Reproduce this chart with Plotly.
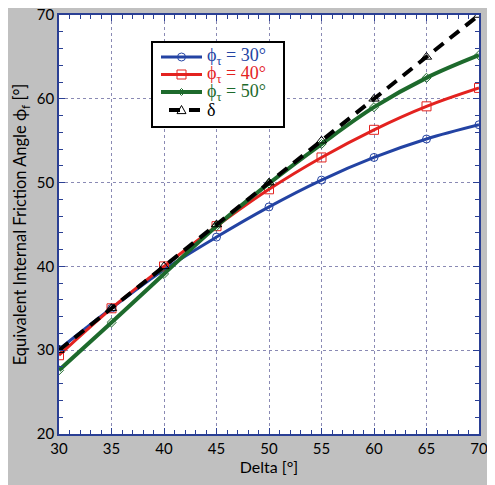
import plotly.graph_objects as go

# CONFIG
delta = [30, 35, 40, 45, 50, 55, 60, 65, 70]

phi_30 = [30.1, 35.0, 39.6, 43.5, 47.1, 50.3, 53.0, 55.2, 56.9]
phi_40 = [29.4, 35.0, 40.0, 44.8, 49.2, 53.0, 56.3, 59.1, 61.3]
phi_50 = [27.6, 33.3, 39.1, 44.8, 49.9, 54.6, 59.0, 62.5, 65.2]
phi_delta = [30, 35, 40, 45, 50, 55, 60, 65, 70]

legend_labels = ["ϕ<sub>τ</sub> = 30°", "ϕ<sub>τ</sub> = 40°", "ϕ<sub>τ</sub> = 50°", "δ"]

BLUE = "#2343a3"
RED = "#e3221f"
GREEN = "#1d6a2c"
AXIS = "#2a3f94"
GRID = "#8a8ab4"
BG = "#c0c0c0"
FONT = "Lato"

# the page body has an 8px margin, so the figure is made 8px smaller
# and the margins shifted to keep the plot box where the reference has it
PAGE_OFFSET = 8
PLOT_L, PLOT_R, PLOT_T, PLOT_B = 59, 479, 15, 434   # plot box, page pixels

# hand drawn legend box (page pixels) - plotly's own legend rows are too tall
LEG_BOX = (152, 42, 284, 127)
LEG_ROWS = [57, 74.5, 92, 110]
LEG_LINE = (161, 202)
LEG_MARK_X = 181.5
LEG_TEXT_X = 205


def px(x):
    return (x - PLOT_L) / (PLOT_R - PLOT_L)


def py(y):
    return (PLOT_B - y) / (PLOT_B - PLOT_T)


def marker_shape(kind, cx, cy, color):
    style = dict(xref="paper", yref="paper", line=dict(color=color, width=1),
                 fillcolor="rgba(0,0,0,0)")
    if kind == "circle":
        r = 4
        return dict(type="circle", x0=px(cx - r), x1=px(cx + r),
                    y0=py(cy + r), y1=py(cy - r), **style)
    if kind == "square":
        r = 4.5
        return dict(type="rect", x0=px(cx - r), x1=px(cx + r),
                    y0=py(cy + r), y1=py(cy - r), **style)
    if kind == "diamond":
        r = 3.5
        pts = [(cx, cy - r), (cx + r, cy), (cx, cy + r), (cx - r, cy)]
    else:  # triangle
        r = 4.5
        pts = [(cx, cy - r), (cx + r, cy + r * 0.8), (cx - r, cy + r * 0.8)]
    path = "M " + " L ".join(f"{px(a):.5f},{py(b):.5f}" for a, b in pts) + " Z"
    return dict(type="path", path=path, **style)


def make_figure():
    fig = go.Figure()

    series = [
        (phi_30, BLUE, 3, "circle-open", 8, None),
        (phi_40, RED, 3, "square-open", 9, None),
        (phi_50, GREEN, 4, "diamond-open", 7, None),
        (phi_delta, "black", 4, "triangle-up-open", 9, "12px,8px"),
    ]
    for (values, color, width, symbol, size, dash), name in zip(series, legend_labels):
        fig.add_trace(go.Scatter(
            x=delta, y=values, mode="lines+markers",
            line_shape="linear" if dash else "spline",
            name=name, showlegend=False,
            line=dict(color=color, width=width, dash=dash),
            marker=dict(symbol=symbol, size=size, color=color, line=dict(width=1)),
        ))

    axis_common = dict(
        showline=True, linecolor=AXIS, linewidth=1.5, mirror="ticks",
        ticks="inside", ticklen=6, tickcolor=AXIS, tickwidth=1,
        showgrid=True, gridcolor=GRID, griddash="dot", gridwidth=1,
        zeroline=False, automargin=False, ticklabeloverflow="allow",
        tickfont=dict(family=FONT, size=15, color="black"),
    )

    fig.update_xaxes(
        range=[30, 70], tick0=30, dtick=5,
        minor=dict(dtick=1, ticks="inside", ticklen=4, tickcolor=AXIS, showgrid=False),
        title=dict(text="Delta [°]", font=dict(family=FONT, size=16, color="black"), standoff=4),
        **axis_common,
    )
    fig.update_yaxes(
        range=[20, 70], tick0=20, dtick=10,
        minor=dict(dtick=2, ticks="inside", ticklen=4, tickcolor=AXIS, showgrid=False),
        title=dict(text="Equivalent Internal Friction Angle ϕ<sub>f</sub> [°]",
                   font=dict(family=FONT, size=16.5, color="black"), standoff=6),
        **axis_common,
    )

    # --- legend ---
    x0, y0, x1, y1 = LEG_BOX
    shapes = [dict(type="rect", xref="paper", yref="paper",
                   x0=px(x0), x1=px(x1), y0=py(y1), y1=py(y0),
                   fillcolor="white", line=dict(color="black", width=2))]
    annotations = []
    kinds = ["circle", "square", "diamond", "triangle"]
    for (values, color, width, symbol, size, dash), name, kind, row in zip(
            series, legend_labels, kinds, LEG_ROWS):
        lx0, lx1 = LEG_LINE
        if dash:
            lx0 += 8
        shapes.append(dict(type="line", xref="paper", yref="paper",
                           x0=px(lx0), x1=px(lx1), y0=py(row), y1=py(row),
                           line=dict(color=color, width=width,
                                     dash="11px,9px" if dash else "solid")))
        shapes.append(marker_shape(kind, LEG_MARK_X, row, color))
        annotations.append(dict(
            xref="paper", yref="paper", x=px(LEG_TEXT_X), y=py(row),
            xanchor="left", yanchor="middle", showarrow=False,
            text=name, font=dict(family="Liberation Serif", size=18, color=color),
        ))

    fig.update_layout(
        width=495 - PAGE_OFFSET, height=485 - PAGE_OFFSET,
        margin=dict(l=PLOT_L - PAGE_OFFSET, r=495 - PLOT_R,
                    t=PLOT_T - PAGE_OFFSET, b=485 - PLOT_B),
        paper_bgcolor=BG, plot_bgcolor="white",
        showlegend=False,
        shapes=shapes, annotations=annotations,
    )
    return fig


if __name__ == "__main__":
    fig = make_figure()
    fig.write_html("out.html")
